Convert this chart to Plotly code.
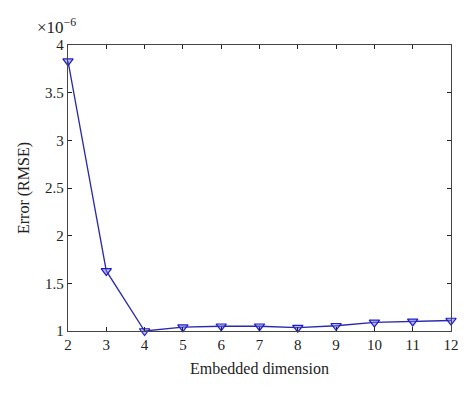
import plotly.graph_objects as go

dims = [2, 3, 4, 5, 6, 7, 8, 9, 10, 11, 12]
rmse_e6 = [3.83, 1.63, 1.00, 1.04, 1.05, 1.05, 1.035, 1.055, 1.09, 1.10, 1.11]
x_ticks = [2, 3, 4, 5, 6, 7, 8, 9, 10, 11, 12]
y_ticks = [1, 1.5, 2, 2.5, 3, 3.5, 4]
y_tick_text = ["1", "1.5", "2", "2.5", "3", "3.5", "4"]

blue = "rgb(40,40,170)"
fam = "Liberation Serif, Times New Roman, serif"
tick_font = dict(family=fam, size=15, color="#222")
title_font = dict(family=fam, size=16, color="#222")
exp_font = dict(family=fam, size=17, color="#222")

fig = go.Figure()
fig.add_trace(go.Scatter(
    x=dims, y=rmse_e6, mode="lines+markers",
    line=dict(color=blue, width=1.3),
    marker=dict(symbol="triangle-down", size=9, color="rgba(120,120,240,0.5)",
                line=dict(color="rgb(30,30,200)", width=1.2)),
    showlegend=False, cliponaxis=False,
))

axis_common = dict(
    showline=True, linecolor="#444", linewidth=1.3, mirror="allticks",
    ticks="inside", ticklen=4, tickcolor="#222", tickwidth=1,
    showgrid=False, zeroline=False, tickfont=tick_font,
)
fig.update_xaxes(range=[2, 12], tickvals=x_ticks,
                 title=dict(text="Embedded dimension", font=title_font, standoff=10), **axis_common)
fig.update_yaxes(range=[1, 4], tickvals=y_ticks, ticktext=y_tick_text,
                 title=dict(text="Error (RMSE)", font=title_font, standoff=11), **axis_common)

fig.add_annotation(text="×10<sup>−6</sup>", xref="paper", yref="paper", x=0, y=1,
                   xanchor="center", yanchor="bottom", xshift=-12, yshift=6,
                   showarrow=False, font=exp_font)

fig.update_layout(
    width=474, height=395,
    margin=dict(l=68, r=23, t=45, b=64),
    paper_bgcolor="white", plot_bgcolor="white",
    font=tick_font,
)
fig.write_html("out.html", config={"displayModeBar": False},
               post_script="document.body.style.margin='0';")
